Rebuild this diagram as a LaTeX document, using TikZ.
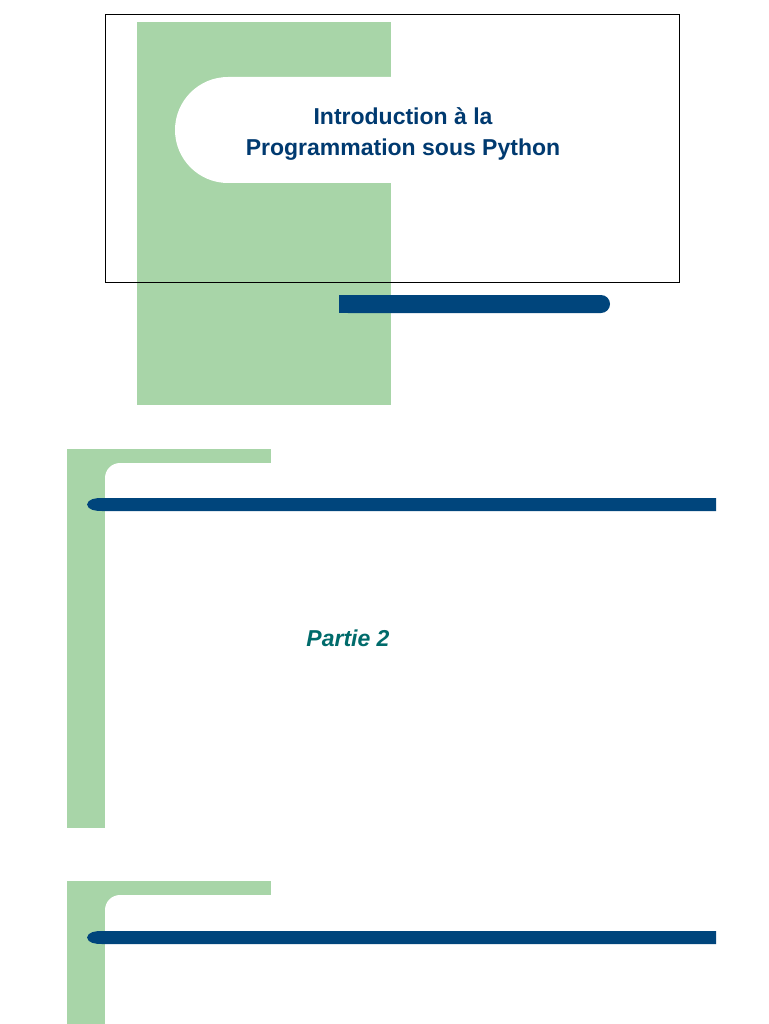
\documentclass[tikz,border=0pt]{standalone}
\usepackage{fontspec}
\setmainfont{Liberation Sans}
\definecolor{sgreen}{HTML}{A8D5A8}
\definecolor{sblue}{HTML}{00457C}
\definecolor{tblue}{HTML}{003A70}
\definecolor{teal2}{HTML}{006B6B}
\begin{document}
\begin{tikzpicture}[x=1pt,y=-1pt]
\useasboundingbox[fill=white] (0,0) rectangle (768,1024);
% slide 1
\fill[sgreen] (137,22) rectangle (391,405);
\fill[white,rounded corners=53] (175,77) rectangle (660,183);
\node[font=\bfseries\fontsize{23}{31}\selectfont,text=tblue,align=center] (title) at (403,134) {Introduction à la\\Programmation sous Python};
\draw[black,line width=0.8pt] (105,14) rectangle (679,282);
\fill[sblue,rounded corners=9] (339,295) rectangle (610,313);
\fill[sblue] (339,295) rectangle (360,313);
% slide 2
\fill[sgreen] (67,449) rectangle (271,828);
\fill[white,rounded corners=15] (105,463) rectangle (300,850);
\fill[sblue] (87,504.5) .. controls (88,499) and (95,498) .. (102,498) -- (716,498) -- (716,511) -- (102,511) .. controls (95,511) and (88,510) .. (87,504.5) -- cycle;
\node[font=\bfseries\itshape\fontsize{23}{28}\selectfont,text=teal2] (partie) at (348,638) {Partie 2};
% slide 3
\fill[sgreen] (67,881) rectangle (271,1024);
\fill[white,rounded corners=15] (105,895) rectangle (300,1040);
\fill[sblue] (87,937.5) .. controls (88,932) and (95,931) .. (102,931) -- (716,931) -- (716,944) -- (102,944) .. controls (95,944) and (88,943) .. (87,937.5) -- cycle;
\end{tikzpicture}
\end{document}
